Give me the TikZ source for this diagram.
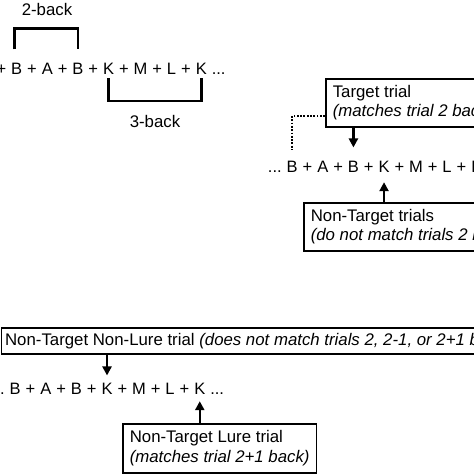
\documentclass[tikz,border=0pt]{standalone}
\usepackage{fontspec}
\setmainfont{Liberation Sans}
\usetikzlibrary{arrows.meta}
\newcommand\seqrow[4]{%
  \node[seq] (#1-1) at (#2,#3) {B};
  \node[seq,anchor=base east] (#1-0) at (#1-1.base west) {#4\ \null};
  \foreach \l [count=\i from 2, remember=\i as \j (initially 1)] in {A,B,K,M,L,K} {
    \node[seq] (#1-p\i) at (#1-\j.base east) {\null\ +\ \null};
    \node[seq] (#1-\i) at (#1-p\i.base east) {\l};
  }
  \node[seq] (#1-e) at (#1-7.base east) {\null\ ...};
}
\begin{document}
\begin{tikzpicture}[x=1pt,y=-1pt,
  seq/.style={inner sep=0pt, anchor=base west, font=\fontsize{16.5}{19.5}\selectfont},
  lbl/.style={font=\fontsize{16.8}{19.5}\selectfont},
  box/.style={draw, line width=1.6pt, align=left, inner xsep=7pt, inner ysep=4pt, font=\fontsize{16.8}{19.5}\selectfont},
  arr/.style={line width=2.4pt, -{Triangle[width=9pt,length=9pt]}},
  brk/.style={line width=2.5pt},
  dots/.style={line width=2.2pt, dash pattern=on 1.8pt off 1.5pt}]
\useasboundingbox (0,0) rectangle (474,474);
\fill[white] (0,0) rectangle (474,474);

\seqrow{r1}{11}{74}{+}
\seqrow{r2}{286.5}{172}{...}
\seqrow{r3}{9.5}{394.5}{...}

\node[lbl] (two) at (47,9) {2-back};
\node[lbl] (three) at (155,121) {3-back};
\draw[brk] ([xshift=-2pt,yshift=13pt]r1-1.north) -- ++(0,-21) -| ([yshift=13pt]r1-3.north);
\draw[brk] ([yshift=-4pt]r1-4.south) -- ++(0,23) -| ([yshift=-4pt]r1-7.south);

\node[box, anchor=north west, minimum height=48pt] (tgt) at (325,78) {Target trial\\\textit{(matches trial 2 back)}};
\node[box, anchor=north west, minimum height=48pt] (nt) at (303,202) {Non-Target trials\\\textit{(do not match trials 2 back)}};
\node[box, anchor=north west, minimum height=26pt, inner xsep=3.5pt] (nl) at (0.8,327) {Non-Target Non-Lure trial \textit{(does not match trials 2, 2-1, or 2+1 back)}};
\node[box, anchor=north west, minimum height=49pt] (lure) at (122,423) {Non-Target Lure trial\\\textit{(matches trial 2+1 back)}};

\draw[arr] (tgt.south -| r2-3.north) -- ([yshift=13pt]r2-3.north);
\draw[arr] (nt.north -| r2-4.south) -- ([yshift=-10pt]r2-4.south);
\draw[arr] (nl.south -| r3-4.north) -- ([yshift=7.5pt]r3-4.north);
\draw[arr] (lure.north -| r3-7.south) -- ([yshift=-6.5pt]r3-7.south);
\draw[dots] ([yshift=-13pt]tgt.west) -| ([yshift=10pt]r2-1.north);
\end{tikzpicture}
\end{document}
